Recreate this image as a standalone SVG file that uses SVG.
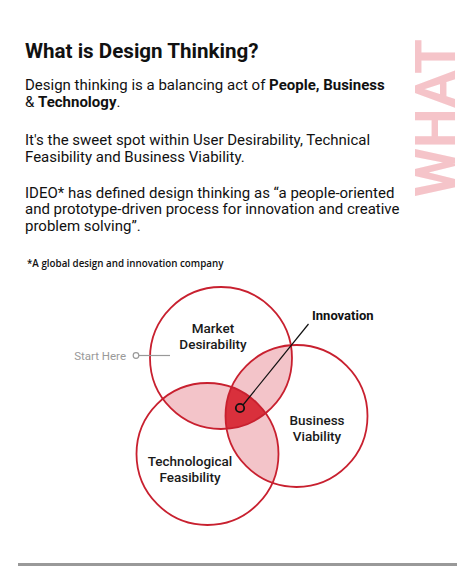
<svg xmlns="http://www.w3.org/2000/svg" width="474" height="566" viewBox="0 0 474 566">
<style>
  .t { font-family: Roboto, "Liberation Sans", sans-serif; fill: #111; }
  .b { font-weight: 700; }
  .p { font-size: 15px; }
  .lbl { font-family: Roboto, "Liberation Sans", sans-serif; font-size: 13.5px; font-weight: 500; fill: #1a1a1a; text-anchor: middle; }
  .ring { fill: none; stroke: #c8202f; stroke-width: 1.8; }
  .pair { fill: #f3c4c9; }
  .tri { fill: #d9303c; }
</style>
<defs>
  <clipPath id="cA"><circle cx="221" cy="358" r="71"/></clipPath>
  <clipPath id="cB"><circle cx="296.5" cy="416" r="71"/></clipPath>
  <clipPath id="cC"><circle cx="207.5" cy="454" r="71"/></clipPath>
</defs>
<rect width="474" height="566" fill="#fff"/>

<g id="header">
  <text class="t b" x="25" y="58" font-size="20.6">What is Design Thinking?</text>
  <text class="t p" x="25" y="90">Design thinking is a balancing act of <tspan class="b">People, Business</tspan></text>
  <text class="t p" x="25" y="106.5">&amp; <tspan class="b">Technology</tspan>.</text>
  <text class="t p" x="25" y="145">It's the sweet spot within User Desirability, Technical</text>
  <text class="t p" x="25" y="161.5">Feasibility and Business Viability.</text>
  <text class="t p" x="25" y="197.5">IDEO* has defined design thinking as “a people-oriented</text>
  <text class="t p" x="25" y="214">and prototype-driven process for innovation and creative</text>
  <text class="t p" x="25" y="230.5">problem solving”.</text>
  <text x="27" y="266.5" font-family="'Open Sans', 'Liberation Sans', sans-serif" font-weight="600" font-size="9.8" fill="#111">*A global design and innovation company</text>
</g>

<g id="what">
  <text transform="translate(455,197) rotate(-90)" font-family="Roboto, 'Liberation Sans', sans-serif" font-weight="700" font-size="56" fill="#f5c4c9">WHAT</text>
</g>

<g id="overlaps">
  <g clip-path="url(#cA)"><circle class="pair" cx="296.5" cy="416" r="71"/></g>
  <g clip-path="url(#cA)"><circle class="pair" cx="207.5" cy="454" r="71"/></g>
  <g clip-path="url(#cB)"><circle class="pair" cx="207.5" cy="454" r="71"/></g>
  <g clip-path="url(#cA)"><g clip-path="url(#cB)"><circle class="tri" cx="207.5" cy="454" r="71"/></g></g>
</g>

<g id="market-desirability">
  <circle class="ring" cx="221" cy="358" r="71"/>
  <text class="lbl" x="213" y="332.5">Market</text>
  <text class="lbl" x="213" y="348.5">Desirability</text>
</g>
<g id="business-viability">
  <circle class="ring" cx="296.5" cy="416" r="71"/>
  <text class="lbl" x="317" y="424.5">Business</text>
  <text class="lbl" x="317" y="440.5">Viability</text>
</g>
<g id="technological-feasibility">
  <circle class="ring" cx="207.5" cy="454" r="71"/>
  <text class="lbl" x="190" y="466">Technological</text>
  <text class="lbl" x="190" y="482">Feasibility</text>
</g>

<g id="connectors">
  <line x1="243" y1="405" x2="308.5" y2="324" stroke="#111" stroke-width="1.2"/>
  <circle cx="240" cy="408" r="4.2" fill="none" stroke="#111" stroke-width="1.8"/>
  <line x1="139" y1="355.5" x2="170" y2="355.5" stroke="#999" stroke-width="1.2"/>
  <circle cx="136" cy="355.5" r="2.8" fill="#fff" stroke="#999" stroke-width="1.2"/>
</g>

<g id="innovation">
  <text x="312" y="319.5" font-family="Roboto, 'Liberation Sans', sans-serif" font-weight="700" font-size="13" fill="#111">Innovation</text>
</g>
<g id="start-here">
  <text x="126" y="359.5" text-anchor="end" font-family="Roboto, 'Liberation Sans', sans-serif" font-size="11.5" fill="#999">Start Here</text>
</g>

<rect id="bottom-bar" x="18" y="563" width="439" height="3" fill="#999"/>
</svg>
